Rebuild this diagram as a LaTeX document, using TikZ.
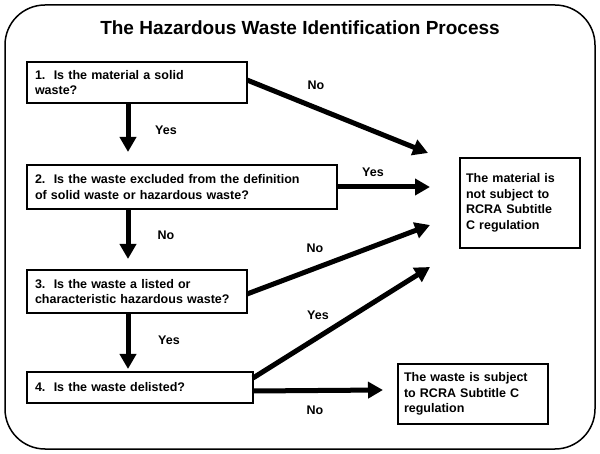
\documentclass[tikz,border=0pt]{standalone}
\usepackage{fontspec}
\setmainfont{Liberation Sans}
\usetikzlibrary{arrows.meta}
\tikzset{
 qbox/.style={draw,line width=1.5pt,inner xsep=8pt,inner ysep=0pt,outer sep=0pt,font=\bfseries\fontsize{12.5}{15.5}\selectfont,align=left},
 arr/.style={line width=5pt,-{Triangle[length=15pt,width=16pt]}},
 lab/.style={font=\bfseries\fontsize{12.5}{15}\selectfont}
}
\begin{document}
\begin{tikzpicture}[x=1pt,y=-1pt]
\useasboundingbox (0,0) rectangle (600,454);
\draw[line width=1.5pt,rounded corners=40pt] (5,5) rectangle (595,449);
\node[font=\bfseries\fontsize{19}{21}\selectfont] (title) at (300,28) {The Hazardous Waste Identification Process};
\node[qbox,minimum width=220pt,minimum height=41pt,text width=204pt] (b1) at (137,82.5) {1.\ \ Is the material a solid\\waste?};
\node[qbox,minimum width=310pt,minimum height=44pt,text width=294pt] (b2) at (182,187) {2.\ \ Is the waste excluded from the definition\\of solid waste or hazardous waste?};
\node[qbox,minimum width=220pt,minimum height=43pt,text width=204pt] (b3) at (137,291.5) {3.\ \ Is the waste a listed or\\characteristic hazardous waste?};
\node[qbox,minimum width=226pt,minimum height=31pt,text width=210pt] (b4) at (140,387.5) {4.\ \ Is the waste delisted?};
\node[qbox,inner xsep=6pt,minimum width=120pt,minimum height=90pt,text width=108pt] (r1) at (520,203) {The material is\\not subject to\\RCRA Subtitle\\C regulation};
\node[qbox,inner xsep=6pt,minimum width=150pt,minimum height=60pt,text width=138pt] (r2) at (473,394) {The waste is subject\\to RCRA Subtitle C\\regulation};
\coordinate (e1) at (428,153);
\coordinate (e2) at (430,187);
\coordinate (e3) at (430,225);
\coordinate (e4) at (430,267);
\coordinate (e5) at (383,390);
\draw[arr] (b1.east |- 0,80) -- (e1);
\draw[arr] (b2.east) -- (e2);
\draw[arr] (b3.east |- 0,294) -- (e3);
\draw[arr] (b4.east |- 0,378) -- (e4);
\draw[arr] (b4.east |- 0,391) -- (e5);
\draw[arr] (128,103) -- (128,152);
\draw[arr] (128,209) -- (128,259);
\draw[arr] (128,313) -- (128,369);
\node[lab] (n1) at (316,85) {No};
\node[lab] (y1) at (166,130) {Yes};
\node[lab] (y2) at (373,172) {Yes};
\node[lab] (n2) at (166,235) {No};
\node[lab] (n3) at (315,248) {No};
\node[lab] (y3) at (169,340) {Yes};
\node[lab] (y4) at (318,315) {Yes};
\node[lab] (n4) at (315,410) {No};
\end{tikzpicture}
\end{document}
